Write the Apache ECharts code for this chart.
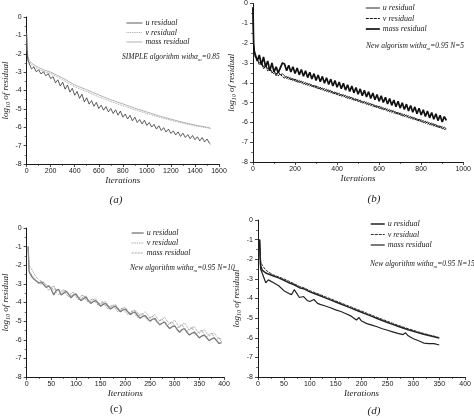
<!DOCTYPE html>
<html>
<head>
<meta charset="utf-8">
<script src="https://cdn.jsdelivr.net/npm/echarts@6/dist/echarts.min.js"></script>
<style>
  html, body { margin: 0; padding: 0; background: #fff; }
  #main { width: 474px; height: 418px; }
</style>
</head>
<body>
<div id="main"></div>
<script>
// ===== data =====
const names = ['u residual', 'v residual', 'mass residual']

// (a) SIMPLE algorithm
const iterA = [0, 3, 6, 10, 20, 40, 70, 100, 150, 200, 300, 400, 500, 600, 700, 800, 900, 1000, 1100, 1200, 1300, 1400, 1500, 1530]
const vResA = [-0.9, -1.6, -2.0, -2.2, -2.45, -2.6, -2.75, -2.85, -2.98, -3.08, -3.42, -3.8, -4.06, -4.35, -4.6, -4.83, -5.05, -5.25, -5.45, -5.62, -5.78, -5.92, -6.03, -6.07]
const massResA = [-0.9, -1.5, -1.9, -2.1, -2.35, -2.5, -2.65, -2.75, -2.9, -3.0, -3.32, -3.7, -3.96, -4.24, -4.5, -4.73, -4.96, -5.17, -5.38, -5.56, -5.73, -5.88, -6.0, -6.05]
const iterAu = [0, 3, 6, 10,
  20, 40, 60, 80, 100, 120, 140, 160, 180, 200,
  220, 240, 260, 280, 300, 320, 340, 360, 380, 400,
  420, 440, 460, 480, 500, 520, 540, 560, 580, 600,
  620, 640, 660, 680, 700, 720, 740, 760, 780, 800,
  820, 840, 860, 880, 900, 920, 940, 960, 980, 1000,
  1020, 1040, 1060, 1080, 1100, 1120, 1140, 1160, 1180, 1200,
  1220, 1240, 1260, 1280, 1300, 1320, 1340, 1360, 1380, 1400,
  1420, 1440, 1460, 1480, 1500, 1520, 1530]
const uResA = [-0.9, -1.7, -2.1, -2.35,
  -2.45, -2.82, -2.72, -2.98, -2.88, -3.10, -2.98, -3.20, -3.08, -3.35,
  -3.25, -3.58, -3.42, -3.76, -3.55, -3.93, -3.70, -4.09, -3.88, -4.26,
  -4.05, -4.43, -4.20, -4.62, -4.40, -4.74, -4.55, -4.86, -4.65, -4.98,
  -4.80, -5.07, -4.88, -5.16, -4.98, -5.25, -5.05, -5.34, -5.12, -5.45,
  -5.28, -5.55, -5.35, -5.65, -5.45, -5.74, -5.58, -5.82, -5.62, -5.90,
  -5.74, -5.99, -5.84, -6.10, -5.92, -6.18, -6.02, -6.26, -6.10, -6.34,
  -6.20, -6.42, -6.25, -6.50, -6.32, -6.56, -6.40, -6.62, -6.45, -6.68,
  -6.52, -6.74, -6.56, -6.80, -6.64, -6.86, -6.92]

// (b) new algorithm N=5
const iterB = [0, 3, 6,
  10, 20, 30, 40, 50, 60, 70, 80, 90, 100, 110, 120, 130, 140,
  150, 160, 170, 180, 190, 200, 210, 220, 230, 240,
  250, 260, 270, 280, 290, 300, 310, 320, 330, 340,
  350, 360, 370, 380, 390, 400, 410, 420, 430, 440,
  450, 460, 470, 480, 490, 500, 510, 520, 530, 540,
  550, 560, 570, 580, 590, 600, 610, 620, 630, 640,
  650, 660, 670, 680, 690, 700, 710, 720, 730, 740,
  750, 760, 770, 780, 790, 800, 810, 820, 830, 840,
  850, 860, 870, 880, 890, 900, 910, 920]
const uResB = [-0.2, -2.1, -2.5,
  -2.6, -2.85, -3.0, -2.95, -3.2, -3.1, -3.3, -3.25, -3.5, -3.4, -3.65, -3.45, -3.6, -3.55,
  -3.64, -3.79, -3.71, -3.86, -3.78, -3.93, -3.85, -4.00, -3.91, -4.07,
  -3.98, -4.14, -4.05, -4.20, -4.12, -4.27, -4.19, -4.34, -4.26, -4.41,
  -4.32, -4.48, -4.39, -4.55, -4.46, -4.62, -4.53, -4.68, -4.60, -4.75,
  -4.67, -4.82, -4.73, -4.89, -4.80, -4.96, -4.87, -5.03, -4.94, -5.09,
  -5.01, -5.16, -5.08, -5.23, -5.15, -5.30, -5.21, -5.37, -5.28, -5.44,
  -5.35, -5.50, -5.42, -5.57, -5.49, -5.64, -5.56, -5.71, -5.62, -5.78,
  -5.69, -5.85, -5.76, -5.91, -5.83, -5.98, -5.90, -6.05, -5.97, -6.12,
  -6.03, -6.19, -6.10, -6.26, -6.17, -6.33, -6.24, -6.33]
const vResB = [-0.2, -2.2, -2.45,
  -2.7, -2.75, -3.1, -3.0, -3.3, -3.15, -3.4, -3.3, -3.45, -3.55, -3.5, -3.65, -3.55, -3.7,
  -3.76, -3.67, -3.83, -3.74, -3.90, -3.81, -3.97, -3.88, -4.03, -3.95,
  -4.10, -4.02, -4.17, -4.09, -4.24, -4.15, -4.31, -4.22, -4.38, -4.29,
  -4.44, -4.36, -4.51, -4.43, -4.58, -4.50, -4.65, -4.56, -4.72, -4.63,
  -4.79, -4.70, -4.85, -4.77, -4.92, -4.84, -4.99, -4.91, -5.06, -4.97,
  -5.13, -5.04, -5.20, -5.11, -5.27, -5.18, -5.33, -5.25, -5.40, -5.32,
  -5.47, -5.38, -5.54, -5.45, -5.61, -5.52, -5.68, -5.59, -5.74, -5.66,
  -5.81, -5.73, -5.88, -5.79, -5.95, -5.86, -6.02, -5.93, -6.09, -6.00,
  -6.15, -6.07, -6.22, -6.14, -6.29, -6.21, -6.36, -6.33]
const massResB = [-0.2, -2.0, -2.4,
  -2.5, -2.9, -2.6, -3.1, -2.7, -3.2, -2.9, -3.4, -3.0, -3.45, -3.2, -3.5, -3.25, -3.0,
  -3.05, -3.39, -3.12, -3.46, -3.19, -3.53, -3.26, -3.60, -3.33, -3.67,
  -3.40, -3.74, -3.47, -3.81, -3.54, -3.88, -3.61, -3.95, -3.68, -4.02,
  -3.75, -4.09, -3.82, -4.16, -3.89, -4.23, -3.96, -4.30, -4.03, -4.37,
  -4.10, -4.44, -4.17, -4.51, -4.24, -4.58, -4.31, -4.65, -4.38, -4.72,
  -4.45, -4.79, -4.52, -4.86, -4.59, -4.93, -4.66, -5.00, -4.73, -5.07,
  -4.80, -5.14, -4.87, -5.21, -4.94, -5.28, -5.01, -5.35, -5.08, -5.42,
  -5.15, -5.49, -5.22, -5.56, -5.29, -5.63, -5.36, -5.70, -5.43, -5.77,
  -5.50, -5.84, -5.57, -5.91, -5.64, -5.98, -5.71, -5.90]

// (c) new algorithm N=10
const iterC = [3, 5, 10, 15, 20, 25, 30, 35, 40, 45,
  50, 55, 60, 65, 70, 75, 80, 85, 90, 95,
  100, 105, 110, 115, 120, 125, 130, 135, 140, 145,
  150, 155, 160, 165, 170, 175, 180, 185, 190, 195,
  200, 205, 210, 215, 220, 225, 230, 235, 240, 245,
  250, 255, 260, 265, 270, 275, 280, 285, 290, 295,
  300, 305, 310, 315, 320, 325, 330, 335, 340, 345,
  350, 355, 360, 365, 370, 375, 380, 385, 390, 395]
const uResC = [-1.0, -2.35, -2.6, -2.75, -2.85, -2.95, -2.9, -3.05, -3.2, -3.1,
  -3.3, -3.6, -3.35, -3.3, -3.6, -3.5, -3.4, -3.55, -3.75, -3.6,
  -3.55, -3.75, -3.9, -3.8, -3.7, -3.9, -4.05, -3.95, -3.9, -4.05,
  -4.2, -4.1, -4.05, -4.2, -4.35, -4.25, -4.2, -4.35, -4.5, -4.4,
  -4.35, -4.5, -4.65, -4.55, -4.5, -4.7, -4.85, -4.75, -4.7, -4.85,
  -5.0, -4.9, -4.85, -5.05, -5.2, -5.1, -5.05, -5.25, -5.4, -5.3,
  -5.25, -5.45, -5.6, -5.45, -5.4, -5.6, -5.75, -5.65, -5.6, -5.75,
  -5.9, -5.8, -5.75, -5.9, -6.05, -5.95, -5.9, -6.05, -6.2, -6.15]
const vResC = [-1.0, -2.0, -2.2, -2.45, -2.65, -2.8, -2.85, -2.95, -3.05, -3.15,
  -3.2, -3.3, -3.25, -3.4, -3.5, -3.4, -3.35, -3.5, -3.65, -3.55,
  -3.5, -3.7, -3.8, -3.7, -3.65, -3.85, -3.95, -3.85, -3.8, -4.0,
  -4.1, -4.0, -3.95, -4.15, -4.25, -4.15, -4.1, -4.3, -4.45, -4.3,
  -4.25, -4.45, -4.6, -4.45, -4.4, -4.55, -4.7, -4.65, -4.5, -4.65,
  -4.85, -4.75, -4.65, -4.85, -5.0, -4.9, -4.8, -5.0, -5.15, -5.05,
  -4.95, -5.15, -5.35, -5.2, -5.1, -5.3, -5.5, -5.35, -5.3, -5.5,
  -5.65, -5.55, -5.45, -5.65, -5.8, -5.7, -5.65, -5.8, -5.95, -5.95]
const massResC = [-1.0, -2.3, -2.5, -2.7, -2.9, -3.0, -3.0, -2.9, -3.2, -3.35,
  -3.2, -3.1, -3.45, -3.6, -3.4, -3.3, -3.55, -3.7, -3.5, -3.45,
  -3.7, -3.85, -3.65, -3.6, -3.85, -4.0, -3.85, -3.8, -4.0, -4.15,
  -4.0, -3.95, -4.2, -4.35, -4.2, -4.15, -4.35, -4.5, -4.35, -4.3,
  -4.5, -4.65, -4.5, -4.45, -4.65, -4.8, -4.65, -4.6, -4.8, -4.95,
  -4.8, -4.75, -4.95, -5.1, -4.95, -4.9, -5.1, -5.25, -5.1, -5.05,
  -5.25, -5.4, -5.25, -5.2, -5.4, -5.55, -5.4, -5.35, -5.55, -5.7,
  -5.55, -5.5, -5.7, -5.85, -5.7, -5.65, -5.85, -6.0, -5.9, -6.1]

// (d) new algorithm N=15
const iterD = [3, 5, 8, 10, 15, 20, 30, 40, 50, 60, 70, 80, 90, 100,
  110, 120, 130, 140, 150, 160, 170, 180, 190, 200,
  210, 220, 230, 240, 250, 260, 270, 280, 290, 300,
  310, 320, 330, 340, 350]
const uResD = [-1.0, -2.3, -2.55, -2.6, -2.7, -2.75, -2.85, -2.95, -3.07, -3.2, -3.3, -3.45, -3.52, -3.66,
  -3.76, -3.86, -3.97, -4.07, -4.18, -4.28, -4.39, -4.49, -4.6, -4.7,
  -4.81, -4.91, -5.02, -5.12, -5.22, -5.32, -5.41, -5.5, -5.59, -5.67,
  -5.75, -5.82, -5.89, -5.95, -6.02]
const vResD = [-1.0, -2.1, -2.3, -2.4, -2.55, -2.65, -2.8, -2.9, -3.0, -3.12, -3.25, -3.38, -3.47, -3.6,
  -3.7, -3.8, -3.91, -4.01, -4.12, -4.22, -4.33, -4.43, -4.54, -4.64,
  -4.75, -4.85, -4.96, -5.06, -5.16, -5.26, -5.36, -5.45, -5.54, -5.62,
  -5.7, -5.78, -5.85, -5.92, -5.99]
const iterDm = [3, 5, 8, 10, 15, 20, 30, 40, 50, 60,
  65, 70, 80, 88, 95, 100, 108, 115, 120, 130,
  140, 150, 160, 170, 180, 190, 195, 200, 210, 220,
  230, 240, 250, 260, 270, 280, 285, 290, 300, 310,
  320, 330, 340, 350]
const massResD = [-1.0, -2.5, -2.7, -2.6, -3.2, -3.05, -3.2, -3.35, -3.6, -3.75,
  -3.8, -3.55, -3.95, -3.9, -4.1, -4.15, -4.05, -4.25, -4.3, -4.38,
  -4.47, -4.58, -4.66, -4.78, -4.9, -5.1, -4.97, -5.15, -5.28, -5.36,
  -5.44, -5.54, -5.62, -5.7, -5.78, -5.84, -5.75, -5.9, -6.05, -6.15,
  -6.27, -6.3, -6.3, -6.37]

// ===== styles =====
const serif = 'Liberation Serif'
const sans = 'Liberation Sans'
const ink = '#1a1a1a'

const styleA = [
  { color: '#333', width: 0.8, type: 'solid' },
  { color: '#999', width: 0.9, type: 'dotted' },
  { color: '#aaa', width: 0.9, type: 'solid' }
]
const styleB = [
  { color: '#111', width: 0.9, type: 'solid' },
  { color: '#111', width: 1, type: [3, 1] },
  { color: '#111', width: 1.7, type: 'solid' }
]
const styleC = [
  { color: '#777', width: 1.3, type: 'solid' },
  { color: '#888', width: 0.9, type: 'dotted' },
  { color: '#999', width: 0.9, type: [2, 1] }
]
const styleD = [
  { color: '#222', width: 1.5, type: 'solid' },
  { color: '#333', width: 1, type: [3, 1] },
  { color: '#222', width: 1.2, type: 'solid' }
]

function zip(xs, ys) {
  return xs.map((x, i) => [x, ys[i]])
}

function line(name, gi, xs, ys, ls) {
  return {
    name: name,
    type: 'line',
    xAxisIndex: gi,
    yAxisIndex: gi,
    data: zip(xs, ys),
    symbol: 'none',
    showSymbol: false,
    silent: true,
    lineStyle: ls,
    itemStyle: { color: ls.color }
  }
}

function xAx(gi, max, interval) {
  return {
    gridIndex: gi,
    type: 'value',
    min: 0,
    max: max,
    interval: interval,
    name: 'Iterations',
    nameLocation: 'middle',
    nameGap: 10,
    nameTextStyle: { fontFamily: serif, fontStyle: 'italic', fontSize: 9, color: ink },
    axisLine: { onZero: false, lineStyle: { color: ink, width: 1 } },
    axisTick: { length: 3, lineStyle: { color: ink, width: 0.8 } },
    minorTick: { show: true, splitNumber: 2, length: 2, lineStyle: { color: ink, width: 0.6 } },
    axisLabel: { fontFamily: sans, fontSize: 7, color: ink, margin: 4, formatter: v => String(v) },
    splitLine: { show: false }
  }
}

function yAx(gi, gap) {
  return {
    gridIndex: gi,
    type: 'value',
    min: -8,
    max: 0,
    interval: 1,
    name: '{n|log}{s|10}{n| of residual}',
    nameLocation: 'middle',
    nameGap: gap,
    nameTextStyle: {
      color: ink,
      rich: {
        n: { fontFamily: serif, fontStyle: 'italic', fontSize: 9, lineHeight: 12, color: ink },
        s: { fontFamily: serif, fontStyle: 'italic', fontSize: 6, lineHeight: 6, verticalAlign: 'bottom', color: ink }
      }
    },
    axisLine: { onZero: false, lineStyle: { color: ink, width: 1 } },
    axisTick: { length: 3, lineStyle: { color: ink, width: 0.8 } },
    minorTick: { show: true, splitNumber: 2, length: 2, lineStyle: { color: ink, width: 0.6 } },
    axisLabel: { fontFamily: sans, fontSize: 7, color: ink, margin: 5, formatter: v => String(v) },
    splitLine: { show: false }
  }
}

function legendAt(left, top, width, gap, styles) {
  return {
    orient: 'vertical',
    left: left,
    top: top,
    itemWidth: width,
    itemHeight: 7,
    itemGap: gap,
    padding: 0,
    selectedMode: false,
    textStyle: { fontFamily: serif, fontStyle: 'italic', fontSize: 8, color: ink, padding: [0, 0, 0, -2] },
    data: names.map((n, i) => ({ name: n, lineStyle: styles[i], itemStyle: { opacity: 0 } }))
  }
}

const annoRich = {
  t: { fontFamily: serif, fontStyle: 'italic', fontSize: 7.5, lineHeight: 11, fill: ink },
  s: { fontFamily: serif, fontStyle: 'italic', fontSize: 5, lineHeight: 5, verticalAlign: 'bottom', fill: ink }
}

function note(x, y, text) {
  return {
    type: 'text',
    x: x,
    y: y,
    silent: true,
    style: { text: text, rich: annoRich, verticalAlign: 'middle', align: 'left', fill: ink }
  }
}

function caption(x, y, text, italic) {
  return {
    type: 'text',
    x: x,
    y: y,
    silent: true,
    style: {
      text: text,
      fill: ink,
      align: 'center',
      verticalAlign: 'middle',
      font: (italic ? 'italic ' : '') + '11px "Liberation Serif"'
    }
  }
}

// ===== chart =====
let myChart = echarts.init(document.getElementById('main'))

let option = {
  animation: false,
  backgroundColor: '#fff',
  grid: [
    { left: 19, top: 17, width: 200, height: 147 },
    { left: 253, top: 3, width: 213, height: 159 },
    { left: 23, top: 228, width: 201, height: 149 },
    { left: 258, top: 220, width: 212, height: 157 }
  ],
  xAxis: [xAx(0, 1600, 200), xAx(1, 1000, 200), xAx(2, 400, 50), xAx(3, 400, 50)],
  yAxis: [yAx(0, 9), yAx(1, 9), yAx(2, 9), yAx(3, 10)],
  legend: [
    legendAt(126, 19, 16, 1.5, styleA),
    legendAt(365, 4, 14, 2.5, styleB),
    legendAt(131, 229, 12, 2, styleC),
    legendAt(370, 220, 14, 2.5, styleD)
  ],
  series: [
    line(names[1], 0, iterA, vResA, styleA[1]),
    line(names[2], 0, iterA, massResA, styleA[2]),
    line(names[0], 0, iterAu, uResA, styleA[0]),

    line(names[2], 1, iterB, massResB, styleB[2]),
    line(names[0], 1, iterB, uResB, styleB[0]),
    line(names[1], 1, iterB, vResB, styleB[1]),

    line(names[0], 2, iterC, uResC, styleC[0]),
    line(names[1], 2, iterC, vResC, styleC[1]),
    line(names[2], 2, iterC, massResC, styleC[2]),

    line(names[0], 3, iterD, uResD, styleD[0]),
    line(names[1], 3, iterD, vResD, styleD[1]),
    line(names[2], 3, iterDm, massResD, styleD[2])
  ],
  graphic: [
    note(122, 57, '{t|SIMPLE algorithm with}{t|α}{s|m}{t|=0.85}'),
    note(366, 46, '{t|New algorism with}{t|α}{s|m}{t|=0.95 N=5}'),
    note(130, 268, '{t|New algorithm with}{t|α}{s|m}{t|=0.95 N=10}'),
    note(370, 264, '{t|New algorithm with}{t|α}{s|m}{t|=0.95 N=15}'),
    caption(116, 200, '(a)', true),
    caption(374, 199, '(b)', true),
    caption(116, 409, '(c)', false),
    caption(374, 411, '(d)', true)
  ]
}

myChart.setOption(option)
</script>
</body>
</html>
